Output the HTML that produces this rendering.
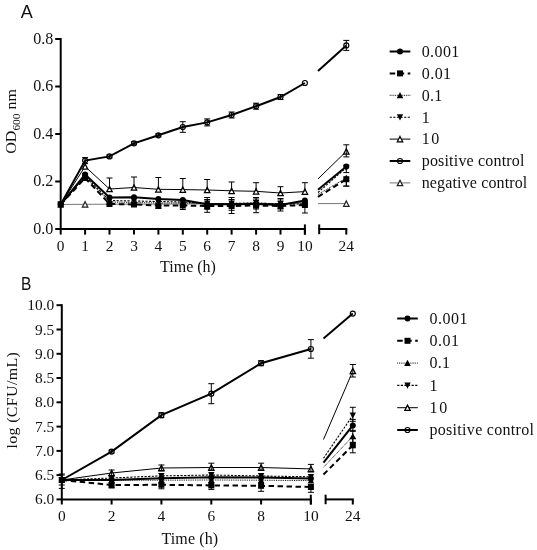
<!DOCTYPE html>
<html><head><meta charset="utf-8"><title>Figure</title>
<style>html,body{margin:0;padding:0;background:#fff}svg{display:block}text{fill:#111}</style></head><body>
<svg width="537" height="550" viewBox="0 0 537 550">
<rect width="537" height="550" fill="#fff"/>
<text transform="translate(20.7,17.6) scale(0.95,1)" font-family="'Liberation Sans',Arial,sans-serif" font-size="19" fill="#222">A</text>
<line x1="60.7" y1="38.0" x2="60.7" y2="230.0" stroke="#000" stroke-width="2" />
<line x1="59.7" y1="229.0" x2="305.5" y2="229.0" stroke="#000" stroke-width="2" />
<line x1="318.5" y1="229.0" x2="347.3" y2="229.0" stroke="#000" stroke-width="2" />
<line x1="304.9" y1="224.4" x2="304.9" y2="234.6" stroke="#000" stroke-width="2" />
<line x1="319.2" y1="224.4" x2="319.2" y2="234.2" stroke="#000" stroke-width="2" />
<line x1="55.2" y1="229.0" x2="60.7" y2="229.0" stroke="#000" stroke-width="2" />
<text x="53.3" y="233.6" text-anchor="end" font-family="'Liberation Serif','Times New Roman',serif" font-size="16.1">0.0</text>
<line x1="55.2" y1="181.5" x2="60.7" y2="181.5" stroke="#000" stroke-width="2" />
<text x="53.3" y="186.1" text-anchor="end" font-family="'Liberation Serif','Times New Roman',serif" font-size="16.1">0.2</text>
<line x1="55.2" y1="134.0" x2="60.7" y2="134.0" stroke="#000" stroke-width="2" />
<text x="53.3" y="138.6" text-anchor="end" font-family="'Liberation Serif','Times New Roman',serif" font-size="16.1">0.4</text>
<line x1="55.2" y1="86.5" x2="60.7" y2="86.5" stroke="#000" stroke-width="2" />
<text x="53.3" y="91.1" text-anchor="end" font-family="'Liberation Serif','Times New Roman',serif" font-size="16.1">0.6</text>
<line x1="55.2" y1="39.0" x2="60.7" y2="39.0" stroke="#000" stroke-width="2" />
<text x="53.3" y="43.6" text-anchor="end" font-family="'Liberation Serif','Times New Roman',serif" font-size="16.1">0.8</text>
<line x1="60.7" y1="229.0" x2="60.7" y2="234.6" stroke="#000" stroke-width="2" />
<text x="60.7" y="251.3" text-anchor="middle" font-family="'Liberation Serif','Times New Roman',serif" font-size="15.4">0</text>
<line x1="85.1" y1="229.0" x2="85.1" y2="234.6" stroke="#000" stroke-width="2" />
<text x="85.1" y="251.3" text-anchor="middle" font-family="'Liberation Serif','Times New Roman',serif" font-size="15.4">1</text>
<line x1="109.5" y1="229.0" x2="109.5" y2="234.6" stroke="#000" stroke-width="2" />
<text x="109.5" y="251.3" text-anchor="middle" font-family="'Liberation Serif','Times New Roman',serif" font-size="15.4">2</text>
<line x1="134.0" y1="229.0" x2="134.0" y2="234.6" stroke="#000" stroke-width="2" />
<text x="134.0" y="251.3" text-anchor="middle" font-family="'Liberation Serif','Times New Roman',serif" font-size="15.4">3</text>
<line x1="158.4" y1="229.0" x2="158.4" y2="234.6" stroke="#000" stroke-width="2" />
<text x="158.4" y="251.3" text-anchor="middle" font-family="'Liberation Serif','Times New Roman',serif" font-size="15.4">4</text>
<line x1="182.8" y1="229.0" x2="182.8" y2="234.6" stroke="#000" stroke-width="2" />
<text x="182.8" y="251.3" text-anchor="middle" font-family="'Liberation Serif','Times New Roman',serif" font-size="15.4">5</text>
<line x1="207.2" y1="229.0" x2="207.2" y2="234.6" stroke="#000" stroke-width="2" />
<text x="207.2" y="251.3" text-anchor="middle" font-family="'Liberation Serif','Times New Roman',serif" font-size="15.4">6</text>
<line x1="231.6" y1="229.0" x2="231.6" y2="234.6" stroke="#000" stroke-width="2" />
<text x="231.6" y="251.3" text-anchor="middle" font-family="'Liberation Serif','Times New Roman',serif" font-size="15.4">7</text>
<line x1="256.1" y1="229.0" x2="256.1" y2="234.6" stroke="#000" stroke-width="2" />
<text x="256.1" y="251.3" text-anchor="middle" font-family="'Liberation Serif','Times New Roman',serif" font-size="15.4">8</text>
<line x1="280.5" y1="229.0" x2="280.5" y2="234.6" stroke="#000" stroke-width="2" />
<text x="280.5" y="251.3" text-anchor="middle" font-family="'Liberation Serif','Times New Roman',serif" font-size="15.4">9</text>
<line x1="304.9" y1="229.0" x2="304.9" y2="234.6" stroke="#000" stroke-width="2" />
<text x="304.9" y="251.3" text-anchor="middle" font-family="'Liberation Serif','Times New Roman',serif" font-size="15.4">10</text>
<line x1="346.3" y1="229.0" x2="346.3" y2="234.6" stroke="#000" stroke-width="2" />
<text x="346.3" y="251.3" text-anchor="middle" font-family="'Liberation Serif','Times New Roman',serif" font-size="15.4">24</text>
<text x="188" y="272.1" text-anchor="middle" font-family="'Liberation Serif','Times New Roman',serif" font-size="16">Time (h)</text>
<text transform="translate(16.4,153.7) rotate(-90) scale(1,0.96)" font-family="'Liberation Serif','Times New Roman',serif" font-size="16">OD<tspan font-size="11.4" dy="3.4">600</tspan><tspan dy="-3.4"> nm</tspan></text>
<polyline points="60.7,204.5 85.1,204.3 304.9,203.6" fill="none" stroke="#777" stroke-width="1"/>
<polyline points="318.0,203.6 346.3,203.6" fill="none" stroke="#777" stroke-width="1"/>
<polyline points="60.7,204.5 85.1,166.5 109.5,189.0 134.0,187.5 158.4,189.3 182.8,189.6 207.2,190.0 231.6,190.8 256.1,191.3 280.5,193.0 304.9,191.6" fill="none" stroke="#000" stroke-width="1"/>
<polyline points="318.0,178.9 346.3,151.4" fill="none" stroke="#000" stroke-width="1"/>
<polyline points="60.7,204.5 85.1,177.0 109.5,202.0 134.0,202.5 158.4,203.0 182.8,203.0 207.2,203.5 231.6,203.5 256.1,203.0 280.5,204.0 304.9,202.0" fill="none" stroke="#000" stroke-width="1" stroke-dasharray="0.9 0.9"/>
<polyline points="318.0,194.4 346.3,178.0" fill="none" stroke="#000" stroke-width="1" stroke-dasharray="0.9 0.9"/>
<polyline points="60.7,204.5 85.1,176.0 109.5,200.5 134.0,201.0 158.4,201.5 182.8,202.0 207.2,203.5 231.6,203.5 256.1,203.0 280.5,204.0 304.9,204.0" fill="none" stroke="#000" stroke-width="1.1" stroke-dasharray="2.2 1.4"/>
<polyline points="318.0,192.5 346.3,167.6" fill="none" stroke="#000" stroke-width="1.1" stroke-dasharray="2.2 1.4"/>
<polyline points="60.7,204.5 85.1,178.0 109.5,204.0 134.0,204.5 158.4,205.5 182.8,205.5 207.2,206.0 231.6,206.0 256.1,205.5 280.5,206.0 304.9,205.0" fill="none" stroke="#000" stroke-width="2" stroke-dasharray="5.5 3.5"/>
<polyline points="318.0,196.8 346.3,179.2" fill="none" stroke="#000" stroke-width="2" stroke-dasharray="5.5 3.5"/>
<polyline points="60.7,204.5 85.1,174.5 109.5,197.5 134.0,197.3 158.4,199.0 182.8,200.0 207.2,204.3 231.6,204.3 256.1,204.0 280.5,205.0 304.9,200.5" fill="none" stroke="#000" stroke-width="2"/>
<polyline points="318.0,189.8 346.3,166.6" fill="none" stroke="#000" stroke-width="2"/>
<polyline points="60.7,204.5 85.1,160.6 109.5,156.4 134.0,143.3 158.4,135.3 182.8,127.0 207.2,122.4 231.6,115.0 256.1,106.2 280.5,97.0 304.9,83.0" fill="none" stroke="#000" stroke-width="2"/>
<polyline points="318.0,71.1 346.3,45.4" fill="none" stroke="#000" stroke-width="2"/>
<polygon points="85.1,201.7 87.8,207.0 82.4,207.0" fill="#fff" stroke="#222" stroke-width="1.25"/>
<polygon points="346.3,201.0 349.0,206.3 343.6,206.3" fill="#fff" stroke="#222" stroke-width="1.25"/>
<polygon points="85.1,163.9 87.8,169.2 82.4,169.2" fill="#fff" stroke="#000" stroke-width="1.25"/>
<polygon points="109.5,186.4 112.2,191.7 106.8,191.7" fill="#fff" stroke="#000" stroke-width="1.25"/>
<polygon points="134.0,184.9 136.7,190.2 131.3,190.2" fill="#fff" stroke="#000" stroke-width="1.25"/>
<polygon points="158.4,186.7 161.1,192.0 155.7,192.0" fill="#fff" stroke="#000" stroke-width="1.25"/>
<polygon points="182.8,187.0 185.5,192.3 180.1,192.3" fill="#fff" stroke="#000" stroke-width="1.25"/>
<polygon points="207.2,187.4 209.9,192.7 204.5,192.7" fill="#fff" stroke="#000" stroke-width="1.25"/>
<polygon points="231.6,188.2 234.3,193.5 228.9,193.5" fill="#fff" stroke="#000" stroke-width="1.25"/>
<polygon points="256.1,188.7 258.8,194.0 253.4,194.0" fill="#fff" stroke="#000" stroke-width="1.25"/>
<polygon points="280.5,190.4 283.2,195.7 277.8,195.7" fill="#fff" stroke="#000" stroke-width="1.25"/>
<polygon points="304.9,189.0 307.6,194.3 302.2,194.3" fill="#fff" stroke="#000" stroke-width="1.25"/>
<polygon points="346.3,148.8 349.0,154.1 343.6,154.1" fill="#fff" stroke="#000" stroke-width="1.25"/>
<line x1="109.5" y1="189.0" x2="109.5" y2="178.0" stroke="#000" stroke-width="1" />
<line x1="106.5" y1="178.0" x2="112.5" y2="178.0" stroke="#000" stroke-width="1" />
<line x1="134.0" y1="187.5" x2="134.0" y2="177.0" stroke="#000" stroke-width="1" />
<line x1="131.0" y1="177.0" x2="137.0" y2="177.0" stroke="#000" stroke-width="1" />
<line x1="158.4" y1="189.3" x2="158.4" y2="177.5" stroke="#000" stroke-width="1" />
<line x1="155.4" y1="177.5" x2="161.4" y2="177.5" stroke="#000" stroke-width="1" />
<line x1="182.8" y1="189.6" x2="182.8" y2="178.5" stroke="#000" stroke-width="1" />
<line x1="179.8" y1="178.5" x2="185.8" y2="178.5" stroke="#000" stroke-width="1" />
<line x1="207.2" y1="190.0" x2="207.2" y2="179.5" stroke="#000" stroke-width="1" />
<line x1="204.2" y1="179.5" x2="210.2" y2="179.5" stroke="#000" stroke-width="1" />
<line x1="231.6" y1="190.8" x2="231.6" y2="182.0" stroke="#000" stroke-width="1" />
<line x1="228.6" y1="182.0" x2="234.6" y2="182.0" stroke="#000" stroke-width="1" />
<line x1="256.1" y1="191.3" x2="256.1" y2="182.7" stroke="#000" stroke-width="1" />
<line x1="253.1" y1="182.7" x2="259.1" y2="182.7" stroke="#000" stroke-width="1" />
<line x1="280.5" y1="193.0" x2="280.5" y2="186.7" stroke="#000" stroke-width="1" />
<line x1="277.5" y1="186.7" x2="283.5" y2="186.7" stroke="#000" stroke-width="1" />
<line x1="304.9" y1="191.6" x2="304.9" y2="182.7" stroke="#000" stroke-width="1" />
<line x1="301.9" y1="182.7" x2="307.9" y2="182.7" stroke="#000" stroke-width="1" />
<line x1="346.3" y1="151.4" x2="346.3" y2="144.8" stroke="#000" stroke-width="1" />
<line x1="343.3" y1="144.8" x2="349.3" y2="144.8" stroke="#000" stroke-width="1" />
<line x1="346.3" y1="151.4" x2="346.3" y2="156.9" stroke="#000" stroke-width="1" />
<line x1="343.3" y1="156.9" x2="349.3" y2="156.9" stroke="#000" stroke-width="1" />
<line x1="207.2" y1="203.5" x2="207.2" y2="199.5" stroke="#000" stroke-width="1" />
<line x1="204.2" y1="199.5" x2="210.2" y2="199.5" stroke="#000" stroke-width="1" />
<line x1="231.6" y1="203.5" x2="231.6" y2="199.5" stroke="#000" stroke-width="1" />
<line x1="228.6" y1="199.5" x2="234.6" y2="199.5" stroke="#000" stroke-width="1" />
<line x1="256.1" y1="203.0" x2="256.1" y2="199.0" stroke="#000" stroke-width="1" />
<line x1="253.1" y1="199.0" x2="259.1" y2="199.0" stroke="#000" stroke-width="1" />
<line x1="280.5" y1="204.0" x2="280.5" y2="200.0" stroke="#000" stroke-width="1" />
<line x1="277.5" y1="200.0" x2="283.5" y2="200.0" stroke="#000" stroke-width="1" />
<polygon points="60.7,207.8 63.9,201.6 57.5,201.6" fill="#000"/>
<polygon points="85.1,179.3 88.3,173.1 81.9,173.1" fill="#000"/>
<polygon points="109.5,203.8 112.7,197.6 106.3,197.6" fill="#000"/>
<polygon points="134.0,204.3 137.2,198.1 130.8,198.1" fill="#000"/>
<polygon points="158.4,204.8 161.6,198.6 155.2,198.6" fill="#000"/>
<polygon points="182.8,205.3 186.0,199.1 179.6,199.1" fill="#000"/>
<polygon points="207.2,206.8 210.4,200.6 204.0,200.6" fill="#000"/>
<polygon points="231.6,206.8 234.8,200.6 228.4,200.6" fill="#000"/>
<polygon points="256.1,206.3 259.3,200.1 252.9,200.1" fill="#000"/>
<polygon points="280.5,207.3 283.7,201.1 277.3,201.1" fill="#000"/>
<polygon points="304.9,207.3 308.1,201.1 301.7,201.1" fill="#000"/>
<polygon points="346.3,170.9 349.5,164.7 343.1,164.7" fill="#000"/>
<line x1="207.2" y1="203.5" x2="207.2" y2="197.5" stroke="#000" stroke-width="1" />
<line x1="204.2" y1="197.5" x2="210.2" y2="197.5" stroke="#000" stroke-width="1" />
<line x1="231.6" y1="203.5" x2="231.6" y2="197.5" stroke="#000" stroke-width="1" />
<line x1="228.6" y1="197.5" x2="234.6" y2="197.5" stroke="#000" stroke-width="1" />
<line x1="256.1" y1="203.0" x2="256.1" y2="197.5" stroke="#000" stroke-width="1" />
<line x1="253.1" y1="197.5" x2="259.1" y2="197.5" stroke="#000" stroke-width="1" />
<line x1="280.5" y1="204.0" x2="280.5" y2="198.5" stroke="#000" stroke-width="1" />
<line x1="277.5" y1="198.5" x2="283.5" y2="198.5" stroke="#000" stroke-width="1" />
<line x1="346.3" y1="178.0" x2="346.3" y2="186.0" stroke="#000" stroke-width="1" />
<line x1="343.3" y1="186.0" x2="349.3" y2="186.0" stroke="#000" stroke-width="1" />
<polygon points="60.7,201.1 64.0,207.5 57.4,207.5" fill="#000"/>
<polygon points="85.1,173.6 88.4,180.0 81.8,180.0" fill="#000"/>
<polygon points="109.5,198.6 112.8,205.0 106.2,205.0" fill="#000"/>
<polygon points="134.0,199.1 137.3,205.5 130.7,205.5" fill="#000"/>
<polygon points="158.4,199.6 161.7,206.0 155.1,206.0" fill="#000"/>
<polygon points="182.8,199.6 186.1,206.0 179.5,206.0" fill="#000"/>
<polygon points="207.2,200.1 210.5,206.5 203.9,206.5" fill="#000"/>
<polygon points="231.6,200.1 234.9,206.5 228.3,206.5" fill="#000"/>
<polygon points="256.1,199.6 259.4,206.0 252.8,206.0" fill="#000"/>
<polygon points="280.5,200.6 283.8,207.0 277.2,207.0" fill="#000"/>
<polygon points="304.9,198.6 308.2,205.0 301.6,205.0" fill="#000"/>
<polygon points="346.3,174.6 349.6,181.0 343.0,181.0" fill="#000"/>
<line x1="207.2" y1="204.3" x2="207.2" y2="209.3" stroke="#000" stroke-width="1" />
<line x1="204.2" y1="209.3" x2="210.2" y2="209.3" stroke="#000" stroke-width="1" />
<line x1="231.6" y1="204.3" x2="231.6" y2="210.3" stroke="#000" stroke-width="1" />
<line x1="228.6" y1="210.3" x2="234.6" y2="210.3" stroke="#000" stroke-width="1" />
<line x1="256.1" y1="204.0" x2="256.1" y2="209.0" stroke="#000" stroke-width="1" />
<line x1="253.1" y1="209.0" x2="259.1" y2="209.0" stroke="#000" stroke-width="1" />
<line x1="280.5" y1="205.0" x2="280.5" y2="209.0" stroke="#000" stroke-width="1" />
<line x1="277.5" y1="209.0" x2="283.5" y2="209.0" stroke="#000" stroke-width="1" />
<line x1="304.9" y1="200.5" x2="304.9" y2="206.5" stroke="#000" stroke-width="1" />
<line x1="301.9" y1="206.5" x2="307.9" y2="206.5" stroke="#000" stroke-width="1" />
<line x1="346.3" y1="166.6" x2="346.3" y2="172.6" stroke="#000" stroke-width="1" />
<line x1="343.3" y1="172.6" x2="349.3" y2="172.6" stroke="#000" stroke-width="1" />
<circle cx="60.7" cy="204.5" r="3" fill="#000"/>
<circle cx="85.1" cy="174.5" r="3" fill="#000"/>
<circle cx="109.5" cy="197.5" r="3" fill="#000"/>
<circle cx="134.0" cy="197.3" r="3" fill="#000"/>
<circle cx="158.4" cy="199.0" r="3" fill="#000"/>
<circle cx="182.8" cy="200.0" r="3" fill="#000"/>
<circle cx="207.2" cy="204.3" r="3" fill="#000"/>
<circle cx="231.6" cy="204.3" r="3" fill="#000"/>
<circle cx="256.1" cy="204.0" r="3" fill="#000"/>
<circle cx="280.5" cy="205.0" r="3" fill="#000"/>
<circle cx="304.9" cy="200.5" r="3" fill="#000"/>
<circle cx="346.3" cy="166.6" r="3" fill="#000"/>
<line x1="158.4" y1="205.5" x2="158.4" y2="208.5" stroke="#000" stroke-width="1" />
<line x1="155.4" y1="208.5" x2="161.4" y2="208.5" stroke="#000" stroke-width="1" />
<line x1="182.8" y1="205.5" x2="182.8" y2="209.5" stroke="#000" stroke-width="1" />
<line x1="179.8" y1="209.5" x2="185.8" y2="209.5" stroke="#000" stroke-width="1" />
<line x1="207.2" y1="206.0" x2="207.2" y2="212.3" stroke="#000" stroke-width="1" />
<line x1="204.2" y1="212.3" x2="210.2" y2="212.3" stroke="#000" stroke-width="1" />
<line x1="231.6" y1="206.0" x2="231.6" y2="213.5" stroke="#000" stroke-width="1" />
<line x1="228.6" y1="213.5" x2="234.6" y2="213.5" stroke="#000" stroke-width="1" />
<line x1="256.1" y1="205.5" x2="256.1" y2="212.7" stroke="#000" stroke-width="1" />
<line x1="253.1" y1="212.7" x2="259.1" y2="212.7" stroke="#000" stroke-width="1" />
<line x1="280.5" y1="206.0" x2="280.5" y2="211.0" stroke="#000" stroke-width="1" />
<line x1="277.5" y1="211.0" x2="283.5" y2="211.0" stroke="#000" stroke-width="1" />
<line x1="304.9" y1="205.0" x2="304.9" y2="213.0" stroke="#000" stroke-width="1" />
<line x1="301.9" y1="213.0" x2="307.9" y2="213.0" stroke="#000" stroke-width="1" />
<line x1="346.3" y1="179.2" x2="346.3" y2="186.2" stroke="#000" stroke-width="1" />
<line x1="343.3" y1="186.2" x2="349.3" y2="186.2" stroke="#000" stroke-width="1" />
<rect x="57.7" y="201.5" width="6" height="6" fill="#000"/>
<rect x="82.1" y="175.0" width="6" height="6" fill="#000"/>
<rect x="106.5" y="201.0" width="6" height="6" fill="#000"/>
<rect x="131.0" y="201.5" width="6" height="6" fill="#000"/>
<rect x="155.4" y="202.5" width="6" height="6" fill="#000"/>
<rect x="179.8" y="202.5" width="6" height="6" fill="#000"/>
<rect x="204.2" y="203.0" width="6" height="6" fill="#000"/>
<rect x="228.6" y="203.0" width="6" height="6" fill="#000"/>
<rect x="253.1" y="202.5" width="6" height="6" fill="#000"/>
<rect x="277.5" y="203.0" width="6" height="6" fill="#000"/>
<rect x="301.9" y="202.0" width="6" height="6" fill="#000"/>
<rect x="343.3" y="176.2" width="6" height="6" fill="#000"/>
<line x1="85.1" y1="160.6" x2="85.1" y2="157.6" stroke="#000" stroke-width="1" />
<line x1="82.1" y1="157.6" x2="88.1" y2="157.6" stroke="#000" stroke-width="1" />
<line x1="85.1" y1="160.6" x2="85.1" y2="163.6" stroke="#000" stroke-width="1" />
<line x1="82.1" y1="163.6" x2="88.1" y2="163.6" stroke="#000" stroke-width="1" />
<line x1="109.5" y1="156.4" x2="109.5" y2="154.9" stroke="#000" stroke-width="1" />
<line x1="106.5" y1="154.9" x2="112.5" y2="154.9" stroke="#000" stroke-width="1" />
<line x1="109.5" y1="156.4" x2="109.5" y2="157.9" stroke="#000" stroke-width="1" />
<line x1="106.5" y1="157.9" x2="112.5" y2="157.9" stroke="#000" stroke-width="1" />
<line x1="134.0" y1="143.3" x2="134.0" y2="141.8" stroke="#000" stroke-width="1" />
<line x1="131.0" y1="141.8" x2="137.0" y2="141.8" stroke="#000" stroke-width="1" />
<line x1="134.0" y1="143.3" x2="134.0" y2="144.8" stroke="#000" stroke-width="1" />
<line x1="131.0" y1="144.8" x2="137.0" y2="144.8" stroke="#000" stroke-width="1" />
<line x1="158.4" y1="135.3" x2="158.4" y2="133.8" stroke="#000" stroke-width="1" />
<line x1="155.4" y1="133.8" x2="161.4" y2="133.8" stroke="#000" stroke-width="1" />
<line x1="158.4" y1="135.3" x2="158.4" y2="136.8" stroke="#000" stroke-width="1" />
<line x1="155.4" y1="136.8" x2="161.4" y2="136.8" stroke="#000" stroke-width="1" />
<line x1="182.8" y1="127.0" x2="182.8" y2="121.7" stroke="#000" stroke-width="1" />
<line x1="179.8" y1="121.7" x2="185.8" y2="121.7" stroke="#000" stroke-width="1" />
<line x1="182.8" y1="127.0" x2="182.8" y2="132.3" stroke="#000" stroke-width="1" />
<line x1="179.8" y1="132.3" x2="185.8" y2="132.3" stroke="#000" stroke-width="1" />
<line x1="207.2" y1="122.4" x2="207.2" y2="118.9" stroke="#000" stroke-width="1" />
<line x1="204.2" y1="118.9" x2="210.2" y2="118.9" stroke="#000" stroke-width="1" />
<line x1="207.2" y1="122.4" x2="207.2" y2="125.9" stroke="#000" stroke-width="1" />
<line x1="204.2" y1="125.9" x2="210.2" y2="125.9" stroke="#000" stroke-width="1" />
<line x1="231.6" y1="115.0" x2="231.6" y2="112.0" stroke="#000" stroke-width="1" />
<line x1="228.6" y1="112.0" x2="234.6" y2="112.0" stroke="#000" stroke-width="1" />
<line x1="231.6" y1="115.0" x2="231.6" y2="118.0" stroke="#000" stroke-width="1" />
<line x1="228.6" y1="118.0" x2="234.6" y2="118.0" stroke="#000" stroke-width="1" />
<line x1="256.1" y1="106.2" x2="256.1" y2="103.2" stroke="#000" stroke-width="1" />
<line x1="253.1" y1="103.2" x2="259.1" y2="103.2" stroke="#000" stroke-width="1" />
<line x1="256.1" y1="106.2" x2="256.1" y2="109.2" stroke="#000" stroke-width="1" />
<line x1="253.1" y1="109.2" x2="259.1" y2="109.2" stroke="#000" stroke-width="1" />
<line x1="280.5" y1="97.0" x2="280.5" y2="94.5" stroke="#000" stroke-width="1" />
<line x1="277.5" y1="94.5" x2="283.5" y2="94.5" stroke="#000" stroke-width="1" />
<line x1="280.5" y1="97.0" x2="280.5" y2="99.5" stroke="#000" stroke-width="1" />
<line x1="277.5" y1="99.5" x2="283.5" y2="99.5" stroke="#000" stroke-width="1" />
<line x1="346.3" y1="45.4" x2="346.3" y2="40.4" stroke="#000" stroke-width="1" />
<line x1="343.3" y1="40.4" x2="349.3" y2="40.4" stroke="#000" stroke-width="1" />
<line x1="346.3" y1="45.4" x2="346.3" y2="50.4" stroke="#000" stroke-width="1" />
<line x1="343.3" y1="50.4" x2="349.3" y2="50.4" stroke="#000" stroke-width="1" />
<circle cx="85.1" cy="160.6" r="2.5" fill="none" stroke="#000" stroke-width="1.2"/>
<circle cx="109.5" cy="156.4" r="2.5" fill="none" stroke="#000" stroke-width="1.2"/>
<circle cx="134.0" cy="143.3" r="2.5" fill="none" stroke="#000" stroke-width="1.2"/>
<circle cx="158.4" cy="135.3" r="2.5" fill="none" stroke="#000" stroke-width="1.2"/>
<circle cx="182.8" cy="127.0" r="2.5" fill="none" stroke="#000" stroke-width="1.2"/>
<circle cx="207.2" cy="122.4" r="2.5" fill="none" stroke="#000" stroke-width="1.2"/>
<circle cx="231.6" cy="115.0" r="2.5" fill="none" stroke="#000" stroke-width="1.2"/>
<circle cx="256.1" cy="106.2" r="2.5" fill="none" stroke="#000" stroke-width="1.2"/>
<circle cx="280.5" cy="97.0" r="2.5" fill="none" stroke="#000" stroke-width="1.2"/>
<circle cx="304.9" cy="83.0" r="2.5" fill="none" stroke="#000" stroke-width="1.2"/>
<circle cx="346.3" cy="45.4" r="2.5" fill="none" stroke="#000" stroke-width="1.2"/>
<polyline points="389.7,51.5 410.3,51.5" fill="none" stroke="#000" stroke-width="2"/>
<circle cx="400.0" cy="51.5" r="3" fill="#000"/>
<text x="421.7" y="56.8" font-family="'Liberation Serif','Times New Roman',serif" font-size="16" textLength="37.6" lengthAdjust="spacing">0.001</text>
<polyline points="389.7,73.4 410.3,73.4" fill="none" stroke="#000" stroke-width="2" stroke-dasharray="5.5 3.5"/>
<rect x="397.0" y="70.4" width="6" height="6" fill="#000"/>
<text x="421.7" y="78.7" font-family="'Liberation Serif','Times New Roman',serif" font-size="16" textLength="29.4" lengthAdjust="spacing">0.01</text>
<polyline points="389.7,95.3 410.3,95.3" fill="none" stroke="#000" stroke-width="1" stroke-dasharray="0.9 0.9"/>
<polygon points="400.0,91.9 403.3,98.3 396.7,98.3" fill="#000"/>
<text x="421.7" y="100.6" font-family="'Liberation Serif','Times New Roman',serif" font-size="16" textLength="20.6" lengthAdjust="spacing">0.1</text>
<polyline points="389.7,117.2 410.3,117.2" fill="none" stroke="#000" stroke-width="1.1" stroke-dasharray="2.2 1.4"/>
<polygon points="400.0,120.5 403.2,114.3 396.8,114.3" fill="#000"/>
<text x="421.7" y="122.5" font-family="'Liberation Serif','Times New Roman',serif" font-size="16">1</text>
<polyline points="389.7,139.1 410.3,139.1" fill="none" stroke="#000" stroke-width="1"/>
<polygon points="400.0,136.5 402.7,141.8 397.3,141.8" fill="#fff" stroke="#000" stroke-width="1.25"/>
<text x="421.7" y="144.4" font-family="'Liberation Serif','Times New Roman',serif" font-size="16" textLength="17.6" lengthAdjust="spacing">10</text>
<polyline points="389.7,161.0 410.3,161.0" fill="none" stroke="#000" stroke-width="2"/>
<circle cx="400.0" cy="161.0" r="2.5" fill="none" stroke="#000" stroke-width="1.2"/>
<text x="421.7" y="166.3" font-family="'Liberation Serif','Times New Roman',serif" font-size="16" textLength="102.8" lengthAdjust="spacing">positive control</text>
<polyline points="389.7,182.9 410.3,182.9" fill="none" stroke="#777" stroke-width="1"/>
<polygon points="400.0,180.3 402.7,185.6 397.3,185.6" fill="#fff" stroke="#222" stroke-width="1.25"/>
<text x="421.7" y="188.2" font-family="'Liberation Serif','Times New Roman',serif" font-size="16" textLength="105.6" lengthAdjust="spacing">negative control</text>
<text transform="translate(20.9,289.6) scale(0.84,1)" font-family="'Liberation Sans',Arial,sans-serif" font-size="18.5" fill="#222">B</text>
<line x1="61.8" y1="304.2" x2="61.8" y2="500.4" stroke="#000" stroke-width="2" />
<line x1="60.8" y1="499.4" x2="311.5" y2="499.4" stroke="#000" stroke-width="2" />
<line x1="325.0" y1="499.4" x2="353.8" y2="499.4" stroke="#000" stroke-width="2" />
<line x1="310.8" y1="494.7" x2="310.8" y2="504.5" stroke="#000" stroke-width="2" />
<line x1="325.6" y1="494.7" x2="325.6" y2="504.2" stroke="#000" stroke-width="2" />
<line x1="56.5" y1="499.4" x2="61.8" y2="499.4" stroke="#000" stroke-width="2" />
<text x="54.2" y="504.4" text-anchor="end" font-family="'Liberation Serif','Times New Roman',serif" font-size="15.4">6.0</text>
<line x1="56.5" y1="475.1" x2="61.8" y2="475.1" stroke="#000" stroke-width="2" />
<text x="54.2" y="480.1" text-anchor="end" font-family="'Liberation Serif','Times New Roman',serif" font-size="15.4">6.5</text>
<line x1="56.5" y1="450.9" x2="61.8" y2="450.9" stroke="#000" stroke-width="2" />
<text x="54.2" y="455.9" text-anchor="end" font-family="'Liberation Serif','Times New Roman',serif" font-size="15.4">7.0</text>
<line x1="56.5" y1="426.6" x2="61.8" y2="426.6" stroke="#000" stroke-width="2" />
<text x="54.2" y="431.6" text-anchor="end" font-family="'Liberation Serif','Times New Roman',serif" font-size="15.4">7.5</text>
<line x1="56.5" y1="402.3" x2="61.8" y2="402.3" stroke="#000" stroke-width="2" />
<text x="54.2" y="407.3" text-anchor="end" font-family="'Liberation Serif','Times New Roman',serif" font-size="15.4">8.0</text>
<line x1="56.5" y1="378.0" x2="61.8" y2="378.0" stroke="#000" stroke-width="2" />
<text x="54.2" y="383.0" text-anchor="end" font-family="'Liberation Serif','Times New Roman',serif" font-size="15.4">8.5</text>
<line x1="56.5" y1="353.8" x2="61.8" y2="353.8" stroke="#000" stroke-width="2" />
<text x="54.2" y="358.8" text-anchor="end" font-family="'Liberation Serif','Times New Roman',serif" font-size="15.4">9.0</text>
<line x1="56.5" y1="329.5" x2="61.8" y2="329.5" stroke="#000" stroke-width="2" />
<text x="54.2" y="334.5" text-anchor="end" font-family="'Liberation Serif','Times New Roman',serif" font-size="15.4">9.5</text>
<line x1="56.5" y1="305.2" x2="61.8" y2="305.2" stroke="#000" stroke-width="2" />
<text x="54.2" y="310.2" text-anchor="end" font-family="'Liberation Serif','Times New Roman',serif" font-size="15.4">10.0</text>
<line x1="61.8" y1="499.4" x2="61.8" y2="504.5" stroke="#000" stroke-width="2" />
<text x="61.8" y="521.4" text-anchor="middle" font-family="'Liberation Serif','Times New Roman',serif" font-size="15.4">0</text>
<line x1="111.6" y1="499.4" x2="111.6" y2="504.5" stroke="#000" stroke-width="2" />
<text x="111.6" y="521.4" text-anchor="middle" font-family="'Liberation Serif','Times New Roman',serif" font-size="15.4">2</text>
<line x1="161.4" y1="499.4" x2="161.4" y2="504.5" stroke="#000" stroke-width="2" />
<text x="161.4" y="521.4" text-anchor="middle" font-family="'Liberation Serif','Times New Roman',serif" font-size="15.4">4</text>
<line x1="211.3" y1="499.4" x2="211.3" y2="504.5" stroke="#000" stroke-width="2" />
<text x="211.3" y="521.4" text-anchor="middle" font-family="'Liberation Serif','Times New Roman',serif" font-size="15.4">6</text>
<line x1="261.1" y1="499.4" x2="261.1" y2="504.5" stroke="#000" stroke-width="2" />
<text x="261.1" y="521.4" text-anchor="middle" font-family="'Liberation Serif','Times New Roman',serif" font-size="15.4">8</text>
<line x1="310.9" y1="499.4" x2="310.9" y2="504.5" stroke="#000" stroke-width="2" />
<text x="310.9" y="521.4" text-anchor="middle" font-family="'Liberation Serif','Times New Roman',serif" font-size="15.4">10</text>
<line x1="352.8" y1="499.4" x2="352.8" y2="504.5" stroke="#000" stroke-width="2" />
<text x="352.8" y="521.4" text-anchor="middle" font-family="'Liberation Serif','Times New Roman',serif" font-size="15.4">24</text>
<text x="189.8" y="543.9" text-anchor="middle" textLength="56.8" font-family="'Liberation Serif','Times New Roman',serif" font-size="16">Time (h)</text>
<text transform="translate(17,448.6) rotate(-90) scale(1,0.88)" font-family="'Liberation Serif','Times New Roman',serif" font-size="16" textLength="96.5">log (CFU/mL)</text>
<polyline points="61.8,480.0 111.6,473.0 161.4,468.0 211.3,467.5 261.1,467.5 310.9,468.9" fill="none" stroke="#000" stroke-width="1"/>
<polyline points="323.5,439.5 352.8,371.0" fill="none" stroke="#000" stroke-width="1"/>
<polyline points="61.8,480.0 111.6,480.3 161.4,480.2 211.3,480.0 261.1,480.2 310.9,480.6" fill="none" stroke="#000" stroke-width="1" stroke-dasharray="0.9 0.9"/>
<polyline points="323.5,467.3 352.8,436.3" fill="none" stroke="#000" stroke-width="1" stroke-dasharray="0.9 0.9"/>
<polyline points="61.8,480.0 111.6,478.0 161.4,475.9 211.3,475.0 261.1,476.0 310.9,476.8" fill="none" stroke="#000" stroke-width="1.1" stroke-dasharray="2.2 1.4"/>
<polyline points="323.5,458.3 352.8,415.3" fill="none" stroke="#000" stroke-width="1.1" stroke-dasharray="2.2 1.4"/>
<polyline points="61.8,480.0 111.6,485.0 161.4,484.8 211.3,485.4 261.1,485.8 310.9,487.0" fill="none" stroke="#000" stroke-width="2" stroke-dasharray="5.5 3.5"/>
<polyline points="323.5,474.5 352.8,445.3" fill="none" stroke="#000" stroke-width="2" stroke-dasharray="5.5 3.5"/>
<polyline points="61.8,480.0 111.6,480.0 161.4,478.3 211.3,477.2 261.1,477.6 310.9,478.6" fill="none" stroke="#000" stroke-width="2"/>
<polyline points="323.5,462.6 352.8,425.4" fill="none" stroke="#000" stroke-width="2"/>
<polyline points="61.8,480.0 111.6,451.6 161.4,415.2 211.3,393.7 261.1,363.2 310.9,349.0" fill="none" stroke="#000" stroke-width="2"/>
<polyline points="323.5,338.4 352.8,313.6" fill="none" stroke="#000" stroke-width="2"/>
<polygon points="111.6,470.4 114.3,475.7 108.9,475.7" fill="#fff" stroke="#000" stroke-width="1.25"/>
<polygon points="161.4,465.4 164.1,470.7 158.7,470.7" fill="#fff" stroke="#000" stroke-width="1.25"/>
<polygon points="211.3,464.9 214.0,470.2 208.6,470.2" fill="#fff" stroke="#000" stroke-width="1.25"/>
<polygon points="261.1,464.9 263.8,470.2 258.4,470.2" fill="#fff" stroke="#000" stroke-width="1.25"/>
<polygon points="310.9,466.3 313.6,471.6 308.2,471.6" fill="#fff" stroke="#000" stroke-width="1.25"/>
<polygon points="352.8,368.4 355.5,373.7 350.1,373.7" fill="#fff" stroke="#000" stroke-width="1.25"/>
<line x1="61.8" y1="480.0" x2="61.8" y2="474.0" stroke="#000" stroke-width="1" />
<line x1="58.8" y1="474.0" x2="64.8" y2="474.0" stroke="#000" stroke-width="1" />
<line x1="111.6" y1="473.0" x2="111.6" y2="470.0" stroke="#000" stroke-width="1" />
<line x1="108.6" y1="470.0" x2="114.6" y2="470.0" stroke="#000" stroke-width="1" />
<line x1="111.6" y1="473.0" x2="111.6" y2="476.0" stroke="#000" stroke-width="1" />
<line x1="108.6" y1="476.0" x2="114.6" y2="476.0" stroke="#000" stroke-width="1" />
<line x1="161.4" y1="468.0" x2="161.4" y2="465.0" stroke="#000" stroke-width="1" />
<line x1="158.4" y1="465.0" x2="164.4" y2="465.0" stroke="#000" stroke-width="1" />
<line x1="161.4" y1="468.0" x2="161.4" y2="471.0" stroke="#000" stroke-width="1" />
<line x1="158.4" y1="471.0" x2="164.4" y2="471.0" stroke="#000" stroke-width="1" />
<line x1="211.3" y1="467.5" x2="211.3" y2="463.2" stroke="#000" stroke-width="1" />
<line x1="208.3" y1="463.2" x2="214.3" y2="463.2" stroke="#000" stroke-width="1" />
<line x1="211.3" y1="467.5" x2="211.3" y2="470.5" stroke="#000" stroke-width="1" />
<line x1="208.3" y1="470.5" x2="214.3" y2="470.5" stroke="#000" stroke-width="1" />
<line x1="261.1" y1="467.5" x2="261.1" y2="463.2" stroke="#000" stroke-width="1" />
<line x1="258.1" y1="463.2" x2="264.1" y2="463.2" stroke="#000" stroke-width="1" />
<line x1="261.1" y1="467.5" x2="261.1" y2="470.5" stroke="#000" stroke-width="1" />
<line x1="258.1" y1="470.5" x2="264.1" y2="470.5" stroke="#000" stroke-width="1" />
<line x1="310.9" y1="468.9" x2="310.9" y2="464.4" stroke="#000" stroke-width="1" />
<line x1="307.9" y1="464.4" x2="313.9" y2="464.4" stroke="#000" stroke-width="1" />
<line x1="310.9" y1="468.9" x2="310.9" y2="471.9" stroke="#000" stroke-width="1" />
<line x1="307.9" y1="471.9" x2="313.9" y2="471.9" stroke="#000" stroke-width="1" />
<line x1="352.8" y1="371.0" x2="352.8" y2="364.5" stroke="#000" stroke-width="1" />
<line x1="349.8" y1="364.5" x2="355.8" y2="364.5" stroke="#000" stroke-width="1" />
<line x1="352.8" y1="371.0" x2="352.8" y2="377.0" stroke="#000" stroke-width="1" />
<line x1="349.8" y1="377.0" x2="355.8" y2="377.0" stroke="#000" stroke-width="1" />
<line x1="352.8" y1="436.3" x2="352.8" y2="430.3" stroke="#000" stroke-width="1" />
<line x1="349.8" y1="430.3" x2="355.8" y2="430.3" stroke="#000" stroke-width="1" />
<line x1="352.8" y1="436.3" x2="352.8" y2="442.3" stroke="#000" stroke-width="1" />
<line x1="349.8" y1="442.3" x2="355.8" y2="442.3" stroke="#000" stroke-width="1" />
<polygon points="61.8,476.6 65.1,483.0 58.5,483.0" fill="#000"/>
<polygon points="111.6,476.9 114.9,483.3 108.3,483.3" fill="#000"/>
<polygon points="161.4,476.8 164.7,483.2 158.1,483.2" fill="#000"/>
<polygon points="211.3,476.6 214.6,483.0 208.0,483.0" fill="#000"/>
<polygon points="261.1,476.8 264.4,483.2 257.8,483.2" fill="#000"/>
<polygon points="310.9,477.2 314.2,483.6 307.6,483.6" fill="#000"/>
<polygon points="352.8,432.9 356.1,439.3 349.5,439.3" fill="#000"/>
<line x1="352.8" y1="415.3" x2="352.8" y2="407.3" stroke="#000" stroke-width="1" />
<line x1="349.8" y1="407.3" x2="355.8" y2="407.3" stroke="#000" stroke-width="1" />
<line x1="352.8" y1="415.3" x2="352.8" y2="421.3" stroke="#000" stroke-width="1" />
<line x1="349.8" y1="421.3" x2="355.8" y2="421.3" stroke="#000" stroke-width="1" />
<polygon points="61.8,483.3 65.0,477.1 58.6,477.1" fill="#000"/>
<polygon points="111.6,481.3 114.8,475.1 108.4,475.1" fill="#000"/>
<polygon points="161.4,479.2 164.6,473.0 158.2,473.0" fill="#000"/>
<polygon points="211.3,478.3 214.5,472.1 208.1,472.1" fill="#000"/>
<polygon points="261.1,479.3 264.3,473.1 257.9,473.1" fill="#000"/>
<polygon points="310.9,480.1 314.1,473.9 307.7,473.9" fill="#000"/>
<polygon points="352.8,418.6 356.0,412.4 349.6,412.4" fill="#000"/>
<line x1="61.8" y1="480.0" x2="61.8" y2="475.0" stroke="#000" stroke-width="1" />
<line x1="58.8" y1="475.0" x2="64.8" y2="475.0" stroke="#000" stroke-width="1" />
<line x1="61.8" y1="480.0" x2="61.8" y2="485.0" stroke="#000" stroke-width="1" />
<line x1="58.8" y1="485.0" x2="64.8" y2="485.0" stroke="#000" stroke-width="1" />
<line x1="352.8" y1="425.4" x2="352.8" y2="419.4" stroke="#000" stroke-width="1" />
<line x1="349.8" y1="419.4" x2="355.8" y2="419.4" stroke="#000" stroke-width="1" />
<line x1="352.8" y1="425.4" x2="352.8" y2="431.4" stroke="#000" stroke-width="1" />
<line x1="349.8" y1="431.4" x2="355.8" y2="431.4" stroke="#000" stroke-width="1" />
<circle cx="61.8" cy="480.0" r="3" fill="#000"/>
<circle cx="111.6" cy="480.0" r="3" fill="#000"/>
<circle cx="161.4" cy="478.3" r="3" fill="#000"/>
<circle cx="211.3" cy="477.2" r="3" fill="#000"/>
<circle cx="261.1" cy="477.6" r="3" fill="#000"/>
<circle cx="310.9" cy="478.6" r="3" fill="#000"/>
<circle cx="352.8" cy="425.4" r="3" fill="#000"/>
<line x1="61.8" y1="480.0" x2="61.8" y2="488.4" stroke="#000" stroke-width="1" />
<line x1="58.8" y1="488.4" x2="64.8" y2="488.4" stroke="#000" stroke-width="1" />
<line x1="111.6" y1="485.0" x2="111.6" y2="488.0" stroke="#000" stroke-width="1" />
<line x1="108.6" y1="488.0" x2="114.6" y2="488.0" stroke="#000" stroke-width="1" />
<line x1="161.4" y1="484.8" x2="161.4" y2="488.8" stroke="#000" stroke-width="1" />
<line x1="158.4" y1="488.8" x2="164.4" y2="488.8" stroke="#000" stroke-width="1" />
<line x1="211.3" y1="485.4" x2="211.3" y2="489.4" stroke="#000" stroke-width="1" />
<line x1="208.3" y1="489.4" x2="214.3" y2="489.4" stroke="#000" stroke-width="1" />
<line x1="261.1" y1="485.8" x2="261.1" y2="491.3" stroke="#000" stroke-width="1" />
<line x1="258.1" y1="491.3" x2="264.1" y2="491.3" stroke="#000" stroke-width="1" />
<line x1="310.9" y1="487.0" x2="310.9" y2="492.3" stroke="#000" stroke-width="1" />
<line x1="307.9" y1="492.3" x2="313.9" y2="492.3" stroke="#000" stroke-width="1" />
<line x1="352.8" y1="445.3" x2="352.8" y2="438.3" stroke="#000" stroke-width="1" />
<line x1="349.8" y1="438.3" x2="355.8" y2="438.3" stroke="#000" stroke-width="1" />
<line x1="352.8" y1="445.3" x2="352.8" y2="452.8" stroke="#000" stroke-width="1" />
<line x1="349.8" y1="452.8" x2="355.8" y2="452.8" stroke="#000" stroke-width="1" />
<rect x="58.8" y="477.0" width="6" height="6" fill="#000"/>
<rect x="108.6" y="482.0" width="6" height="6" fill="#000"/>
<rect x="158.4" y="481.8" width="6" height="6" fill="#000"/>
<rect x="208.3" y="482.4" width="6" height="6" fill="#000"/>
<rect x="258.1" y="482.8" width="6" height="6" fill="#000"/>
<rect x="307.9" y="484.0" width="6" height="6" fill="#000"/>
<rect x="349.8" y="442.3" width="6" height="6" fill="#000"/>
<line x1="111.6" y1="451.6" x2="111.6" y2="450.1" stroke="#000" stroke-width="1" />
<line x1="108.6" y1="450.1" x2="114.6" y2="450.1" stroke="#000" stroke-width="1" />
<line x1="111.6" y1="451.6" x2="111.6" y2="453.1" stroke="#000" stroke-width="1" />
<line x1="108.6" y1="453.1" x2="114.6" y2="453.1" stroke="#000" stroke-width="1" />
<line x1="161.4" y1="415.2" x2="161.4" y2="412.7" stroke="#000" stroke-width="1" />
<line x1="158.4" y1="412.7" x2="164.4" y2="412.7" stroke="#000" stroke-width="1" />
<line x1="161.4" y1="415.2" x2="161.4" y2="417.7" stroke="#000" stroke-width="1" />
<line x1="158.4" y1="417.7" x2="164.4" y2="417.7" stroke="#000" stroke-width="1" />
<line x1="211.3" y1="393.7" x2="211.3" y2="383.7" stroke="#000" stroke-width="1" />
<line x1="208.3" y1="383.7" x2="214.3" y2="383.7" stroke="#000" stroke-width="1" />
<line x1="211.3" y1="393.7" x2="211.3" y2="403.7" stroke="#000" stroke-width="1" />
<line x1="208.3" y1="403.7" x2="214.3" y2="403.7" stroke="#000" stroke-width="1" />
<line x1="261.1" y1="363.2" x2="261.1" y2="360.7" stroke="#000" stroke-width="1" />
<line x1="258.1" y1="360.7" x2="264.1" y2="360.7" stroke="#000" stroke-width="1" />
<line x1="261.1" y1="363.2" x2="261.1" y2="365.7" stroke="#000" stroke-width="1" />
<line x1="258.1" y1="365.7" x2="264.1" y2="365.7" stroke="#000" stroke-width="1" />
<line x1="310.9" y1="349.0" x2="310.9" y2="339.6" stroke="#000" stroke-width="1" />
<line x1="307.9" y1="339.6" x2="313.9" y2="339.6" stroke="#000" stroke-width="1" />
<line x1="310.9" y1="349.0" x2="310.9" y2="358.2" stroke="#000" stroke-width="1" />
<line x1="307.9" y1="358.2" x2="313.9" y2="358.2" stroke="#000" stroke-width="1" />
<circle cx="111.6" cy="451.6" r="2.5" fill="none" stroke="#000" stroke-width="1.2"/>
<circle cx="161.4" cy="415.2" r="2.5" fill="none" stroke="#000" stroke-width="1.2"/>
<circle cx="211.3" cy="393.7" r="2.5" fill="none" stroke="#000" stroke-width="1.2"/>
<circle cx="261.1" cy="363.2" r="2.5" fill="none" stroke="#000" stroke-width="1.2"/>
<circle cx="310.9" cy="349.0" r="2.5" fill="none" stroke="#000" stroke-width="1.2"/>
<circle cx="352.8" cy="313.6" r="2.5" fill="none" stroke="#000" stroke-width="1.2"/>
<polyline points="397.2,318.5 417.8,318.5" fill="none" stroke="#000" stroke-width="2"/>
<circle cx="407.5" cy="318.5" r="3" fill="#000"/>
<text x="429.5" y="323.8" font-family="'Liberation Serif','Times New Roman',serif" font-size="16" textLength="38" lengthAdjust="spacing">0.001</text>
<polyline points="397.2,340.8 417.8,340.8" fill="none" stroke="#000" stroke-width="2" stroke-dasharray="5.5 3.5"/>
<rect x="404.5" y="337.8" width="6" height="6" fill="#000"/>
<text x="429.5" y="346.1" font-family="'Liberation Serif','Times New Roman',serif" font-size="16" textLength="29.6" lengthAdjust="spacing">0.01</text>
<polyline points="397.2,363.1 417.8,363.1" fill="none" stroke="#000" stroke-width="1" stroke-dasharray="0.9 0.9"/>
<polygon points="407.5,359.7 410.8,366.1 404.2,366.1" fill="#000"/>
<text x="429.5" y="368.4" font-family="'Liberation Serif','Times New Roman',serif" font-size="16" textLength="20.6" lengthAdjust="spacing">0.1</text>
<polyline points="397.2,385.4 417.8,385.4" fill="none" stroke="#000" stroke-width="1.1" stroke-dasharray="2.2 1.4"/>
<polygon points="407.5,388.7 410.7,382.5 404.3,382.5" fill="#000"/>
<text x="429.5" y="390.7" font-family="'Liberation Serif','Times New Roman',serif" font-size="16">1</text>
<polyline points="397.2,407.7 417.8,407.7" fill="none" stroke="#000" stroke-width="1"/>
<polygon points="407.5,405.1 410.2,410.4 404.8,410.4" fill="#fff" stroke="#000" stroke-width="1.25"/>
<text x="429.5" y="413.0" font-family="'Liberation Serif','Times New Roman',serif" font-size="16" textLength="17.8" lengthAdjust="spacing">10</text>
<polyline points="397.2,430.0 417.8,430.0" fill="none" stroke="#000" stroke-width="2"/>
<circle cx="407.5" cy="430.0" r="2.5" fill="none" stroke="#000" stroke-width="1.2"/>
<text x="429.5" y="435.3" font-family="'Liberation Serif','Times New Roman',serif" font-size="16" textLength="104.4" lengthAdjust="spacing">positive control</text>
</svg></body></html>
